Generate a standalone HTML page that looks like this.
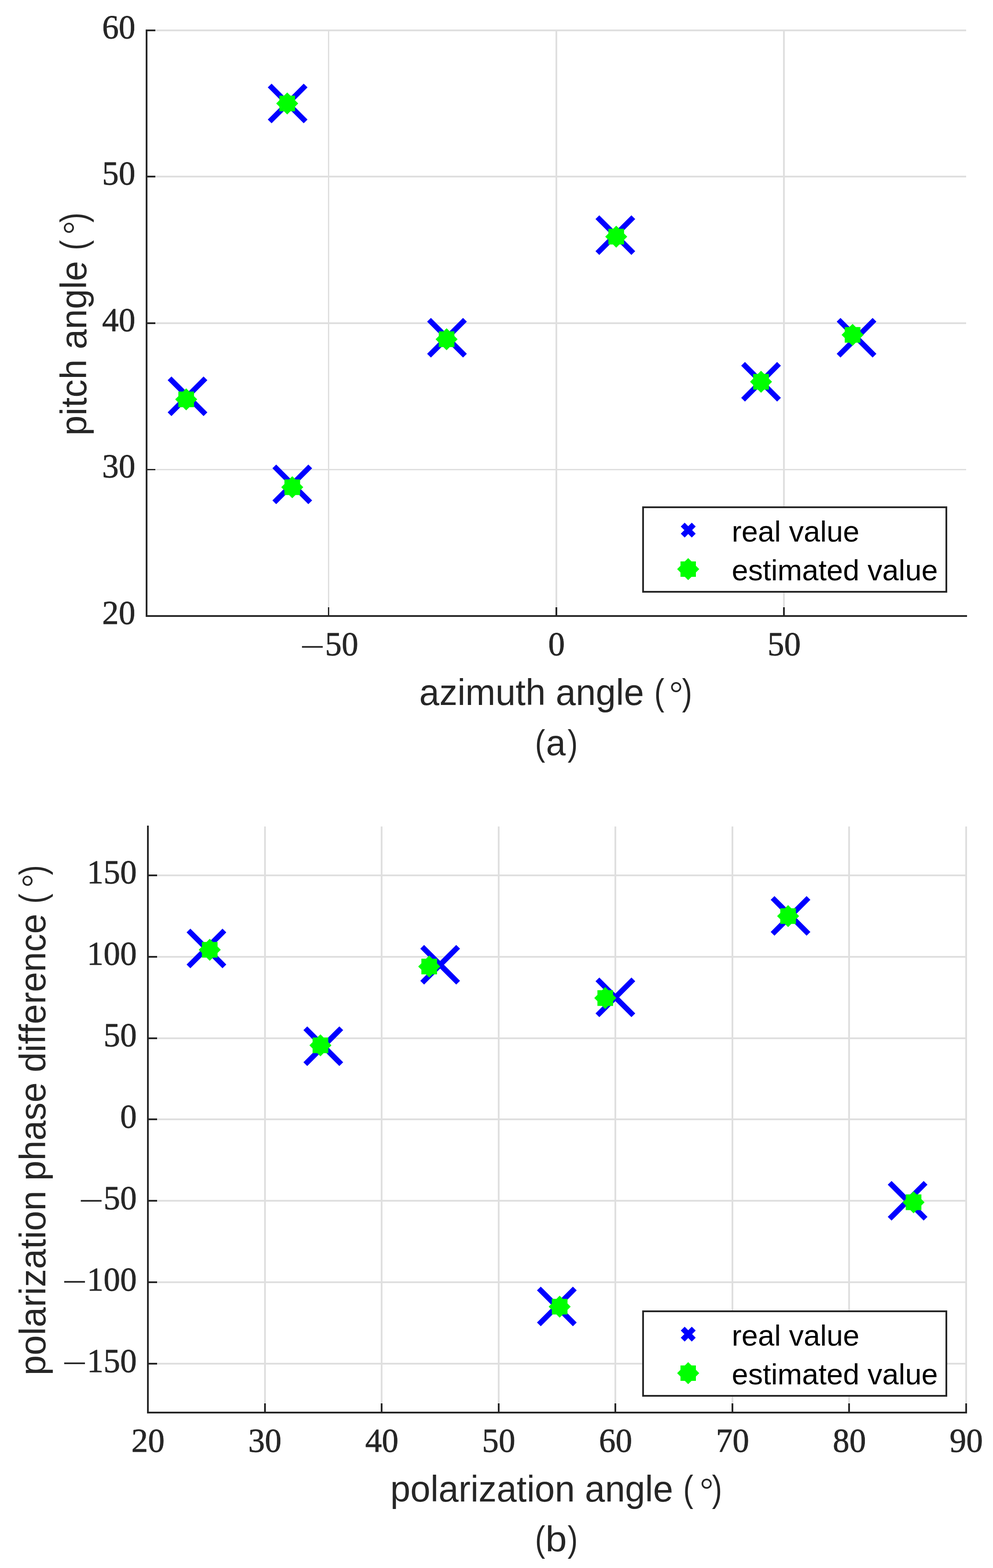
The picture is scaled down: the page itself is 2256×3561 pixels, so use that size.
<!DOCTYPE html>
<html lang="en"><head><meta charset="utf-8"><title>Real and estimated angle values</title>
<style>
html,body{margin:0;padding:0;background:#fff}
body{width:2256px;height:3561px;overflow:hidden}
svg{display:block}
text{font-kerning:none;fill:#262626;white-space:pre}
.sans{font-family:"Liberation Sans",Arial,Helvetica,sans-serif}
.leg{fill:#000}
.deg{font-family:"Liberation Serif","Times New Roman",Times,serif}
.serif{font-family:"Liberation Serif","Times New Roman",Times,serif;stroke:#262626;stroke-width:0.9;stroke-linejoin:round}
.minus{stroke:none}
</style></head><body>
<svg width="2256" height="3561" viewBox="0 0 2256 3561">
<rect width="2256" height="3561" fill="#ffffff"/>
<g id="plot-a">
<g shape-rendering="crispEdges">
<rect x="745" y="69" width="3" height="1309" fill="#dfdfdf"/>
<rect x="1262" y="69" width="4" height="1309" fill="#dfdfdf"/>
<rect x="1779" y="69" width="4" height="1309" fill="#dfdfdf"/>
<rect x="354" y="67" width="1841" height="4" fill="#dfdfdf"/>
<rect x="354" y="399" width="1841" height="4" fill="#dfdfdf"/>
<rect x="354" y="732" width="1841" height="4" fill="#dfdfdf"/>
<rect x="354" y="1065" width="1841" height="3" fill="#dfdfdf"/>
<rect x="745" y="1378" width="3" height="1" fill="#f7f7f7"/>
<rect x="745" y="1379" width="3" height="20" fill="#262626"/>
<rect x="1262" y="1378" width="4" height="1" fill="#f7f7f7"/>
<rect x="1262" y="1379" width="4" height="20" fill="#262626"/>
<rect x="1779" y="1378" width="4" height="1" fill="#f7f7f7"/>
<rect x="1779" y="1379" width="4" height="20" fill="#262626"/>
<rect x="353" y="67" width="1" height="4" fill="#f7f7f7"/>
<rect x="333" y="67" width="20" height="4" fill="#262626"/>
<rect x="353" y="399" width="1" height="4" fill="#f7f7f7"/>
<rect x="333" y="399" width="20" height="4" fill="#262626"/>
<rect x="353" y="732" width="1" height="4" fill="#f7f7f7"/>
<rect x="333" y="732" width="20" height="4" fill="#262626"/>
<rect x="353" y="1065" width="1" height="3" fill="#f7f7f7"/>
<rect x="333" y="1065" width="20" height="3" fill="#262626"/>
<rect x="331" y="67" width="4" height="1334" fill="#262626"/>
<rect x="331" y="1397" width="1866" height="4" fill="#262626"/>
</g>
<path d="M612.7 194.2L694.3 275.8M612.7 275.8L694.3 194.2" stroke="#0000ff" stroke-width="12.2" fill="none"/>
<path d="M1357.2 493.2L1438.8 574.8M1357.2 574.8L1438.8 493.2" stroke="#0000ff" stroke-width="12.2" fill="none"/>
<path d="M974.7 726.2L1056.3 807.8M974.7 807.8L1056.3 726.2" stroke="#0000ff" stroke-width="12.2" fill="none"/>
<path d="M385.2 859.2L466.8 940.8M385.2 940.8L466.8 859.2" stroke="#0000ff" stroke-width="12.2" fill="none"/>
<path d="M623.2 1059.2L704.8 1140.8M623.2 1140.8L704.8 1059.2" stroke="#0000ff" stroke-width="12.2" fill="none"/>
<path d="M1688.2 826.2L1769.8 907.8M1688.2 907.8L1769.8 826.2" stroke="#0000ff" stroke-width="12.2" fill="none"/>
<path d="M1905.2 726.2L1986.8 807.8M1905.2 807.8L1986.8 726.2" stroke="#0000ff" stroke-width="12.2" fill="none"/>
<path d="M634.7 217.2h35.6v35.6h-35.6zM652.5 210L677.5 235L652.5 260L627.5 235z" fill="#00ff00"/>
<path d="M1382.2 519.6h35.6v35.6h-35.6zM1400 512.4L1425 537.4L1400 562.4L1375 537.4z" fill="#00ff00"/>
<path d="M996.8 752.6h35.6v35.6h-35.6zM1014.6 745.4L1039.6 770.4L1014.6 795.4L989.6 770.4z" fill="#00ff00"/>
<path d="M405.2 889.2h35.6v35.6h-35.6zM423 882L448 907L423 932L398 907z" fill="#00ff00"/>
<path d="M646.2 1088.7h35.6v35.6h-35.6zM664 1081.5L689 1106.5L664 1131.5L639 1106.5z" fill="#00ff00"/>
<path d="M1711.2 849.2h35.6v35.6h-35.6zM1729 842L1754 867L1729 892L1704 867z" fill="#00ff00"/>
<path d="M1919.2 742.7h35.6v35.6h-35.6zM1937 735.5L1962 760.5L1937 785.5L1912 760.5z" fill="#00ff00"/>
<rect x="1461" y="1152" width="689" height="192" fill="#ffffff" stroke="#262626" stroke-width="4" shape-rendering="crispEdges"/>
<path d="M1551.1 1191.4L1576.1 1216.4M1551.1 1216.4L1576.1 1191.4" stroke="#0000ff" stroke-width="12.5" fill="none"/>
<path d="M1546 1275h35v35h-35zM1563.5 1267.4L1588.6 1292.5L1563.5 1317.6L1538.4 1292.5z" fill="#00ff00"/>
<text class="sans leg" transform="translate(1662.5 1230) scale(0.9936 1)" font-size="67.3">real value</text>
<text class="sans leg" transform="translate(1662.5 1318) scale(0.9936 1)" font-size="67.3">estimated value</text>
<text class="serif" transform="translate(232.12 1416.9) scale(0.9805 1)" font-size="77">20</text>
<text class="serif" transform="translate(232.12 1084.4) scale(0.9805 1)" font-size="77">30</text>
<text class="serif" transform="translate(232.12 751.9) scale(0.9805 1)" font-size="77">40</text>
<text class="serif" transform="translate(232.12 419.4) scale(0.9805 1)" font-size="77">50</text>
<text class="serif" transform="translate(232.12 86.9) scale(0.9805 1)" font-size="77">60</text>
<text class="serif" transform="translate(738.38 1488.2) scale(0.9805 1)" font-size="77"><tspan class="minus" x="-58.52" y="6.7" font-size="78" textLength="58.39" lengthAdjust="spacingAndGlyphs">−</tspan><tspan x="0" y="0">50</tspan></text>
<text class="serif" transform="translate(1245.43 1488.2) scale(0.9805 1)" font-size="77">0</text>
<text class="serif" transform="translate(1743.77 1488.2) scale(0.9805 1)" font-size="77">50</text>
<text class="sans" transform="translate(952.56 1601) scale(0.984 1)" font-size="83.33"><tspan>azimuth angle </tspan><tspan x="542.67" textLength="23.24" lengthAdjust="spacingAndGlyphs">(</tspan><tspan class="deg" x="577.74" y="-0.7" font-size="77.2">°</tspan><tspan x="606.54" y="0" textLength="23.24" lengthAdjust="spacingAndGlyphs">)</tspan></text>
<text class="sans" transform="translate(196.2 989.25) rotate(-90) scale(0.984 1)" font-size="83.33"><tspan>pitch angle </tspan><tspan x="427.88" textLength="23.24" lengthAdjust="spacingAndGlyphs">(</tspan><tspan class="deg" x="464.07" y="-0.7" font-size="77.2">°</tspan><tspan x="491.5" y="0" textLength="23.24" lengthAdjust="spacingAndGlyphs">)</tspan></text>
<text class="sans" transform="translate(1215.5 1715) scale(1 0.987)" font-size="83.33"><tspan x="0" textLength="23.1" lengthAdjust="spacingAndGlyphs">(</tspan><tspan x="25.03" textLength="44.66" lengthAdjust="spacingAndGlyphs">a</tspan><tspan x="74.08" textLength="23.1" lengthAdjust="spacingAndGlyphs">)</tspan></text>
</g>
<g id="plot-b">
<g shape-rendering="crispEdges">
<rect x="600" y="1877" width="4" height="1309" fill="#dfdfdf"/>
<rect x="865" y="1877" width="4" height="1309" fill="#dfdfdf"/>
<rect x="1131" y="1877" width="4" height="1309" fill="#dfdfdf"/>
<rect x="1396" y="1877" width="4" height="1309" fill="#dfdfdf"/>
<rect x="1662" y="1877" width="4" height="1309" fill="#dfdfdf"/>
<rect x="1927" y="1877" width="4" height="1309" fill="#dfdfdf"/>
<rect x="2193" y="1877" width="4" height="1309" fill="#dfdfdf"/>
<rect x="358" y="1986" width="1837" height="4" fill="#dfdfdf"/>
<rect x="358" y="2171" width="1837" height="4" fill="#dfdfdf"/>
<rect x="358" y="2356" width="1837" height="4" fill="#dfdfdf"/>
<rect x="358" y="2540" width="1837" height="4" fill="#dfdfdf"/>
<rect x="358" y="2725" width="1837" height="4" fill="#dfdfdf"/>
<rect x="358" y="2910" width="1837" height="4" fill="#dfdfdf"/>
<rect x="358" y="3095" width="1837" height="4" fill="#dfdfdf"/>
<rect x="600" y="3186" width="4" height="1" fill="#f7f7f7"/>
<rect x="600" y="3187" width="4" height="21" fill="#262626"/>
<rect x="865" y="3186" width="4" height="1" fill="#f7f7f7"/>
<rect x="865" y="3187" width="4" height="21" fill="#262626"/>
<rect x="1131" y="3186" width="4" height="1" fill="#f7f7f7"/>
<rect x="1131" y="3187" width="4" height="21" fill="#262626"/>
<rect x="1396" y="3186" width="4" height="1" fill="#f7f7f7"/>
<rect x="1396" y="3187" width="4" height="21" fill="#262626"/>
<rect x="1662" y="3186" width="4" height="1" fill="#f7f7f7"/>
<rect x="1662" y="3187" width="4" height="21" fill="#262626"/>
<rect x="1927" y="3186" width="4" height="1" fill="#f7f7f7"/>
<rect x="1927" y="3187" width="4" height="21" fill="#262626"/>
<rect x="2193" y="3186" width="4" height="1" fill="#f7f7f7"/>
<rect x="2193" y="3187" width="4" height="21" fill="#262626"/>
<rect x="357" y="1986" width="1" height="4" fill="#f7f7f7"/>
<rect x="336" y="1986" width="21" height="4" fill="#262626"/>
<rect x="357" y="2171" width="1" height="4" fill="#f7f7f7"/>
<rect x="336" y="2171" width="21" height="4" fill="#262626"/>
<rect x="357" y="2356" width="1" height="4" fill="#f7f7f7"/>
<rect x="336" y="2356" width="21" height="4" fill="#262626"/>
<rect x="357" y="2540" width="1" height="4" fill="#f7f7f7"/>
<rect x="336" y="2540" width="21" height="4" fill="#262626"/>
<rect x="357" y="2725" width="1" height="4" fill="#f7f7f7"/>
<rect x="336" y="2725" width="21" height="4" fill="#262626"/>
<rect x="357" y="2910" width="1" height="4" fill="#f7f7f7"/>
<rect x="336" y="2910" width="21" height="4" fill="#262626"/>
<rect x="357" y="3095" width="1" height="4" fill="#f7f7f7"/>
<rect x="336" y="3095" width="21" height="4" fill="#262626"/>
<rect x="334" y="1875" width="4" height="1335" fill="#262626"/>
<rect x="334" y="3206" width="1863" height="4" fill="#262626"/>
</g>
<path d="M428.2 2113.2L509.8 2194.8M428.2 2194.8L509.8 2113.2" stroke="#0000ff" stroke-width="12.2" fill="none"/>
<path d="M693.7 2335.2L775.3 2416.8M693.7 2416.8L775.3 2335.2" stroke="#0000ff" stroke-width="12.2" fill="none"/>
<path d="M959.2 2150.2L1040.8 2231.8M959.2 2231.8L1040.8 2150.2" stroke="#0000ff" stroke-width="12.2" fill="none"/>
<path d="M1357.3 2224.2L1438.9 2305.8M1357.3 2305.8L1438.9 2224.2" stroke="#0000ff" stroke-width="12.2" fill="none"/>
<path d="M1755.2 2039.2L1836.8 2120.8M1755.2 2120.8L1836.8 2039.2" stroke="#0000ff" stroke-width="12.2" fill="none"/>
<path d="M1224.3 2926.2L1305.9 3007.8M1224.3 3007.8L1305.9 2926.2" stroke="#0000ff" stroke-width="12.2" fill="none"/>
<path d="M2021.2 2686.2L2102.8 2767.8M2021.2 2767.8L2102.8 2686.2" stroke="#0000ff" stroke-width="12.2" fill="none"/>
<path d="M458.7 2139.2h35.6v35.6h-35.6zM476.5 2132L501.5 2157L476.5 2182L451.5 2157z" fill="#00ff00"/>
<path d="M710.2 2356.2h35.6v35.6h-35.6zM728 2349L753 2374L728 2399L703 2374z" fill="#00ff00"/>
<path d="M957.3 2177.2h35.6v35.6h-35.6zM975.1 2170L1000.1 2195L975.1 2220L950.1 2195z" fill="#00ff00"/>
<path d="M1357.3 2248.8h35.6v35.6h-35.6zM1375.1 2241.6L1400.1 2266.6L1375.1 2291.6L1350.1 2266.6z" fill="#00ff00"/>
<path d="M1772.7 2062.7h35.6v35.6h-35.6zM1790.5 2055.5L1815.5 2080.5L1790.5 2105.5L1765.5 2080.5z" fill="#00ff00"/>
<path d="M1253.7 2949.7h35.6v35.6h-35.6zM1271.5 2942.5L1296.5 2967.5L1271.5 2992.5L1246.5 2967.5z" fill="#00ff00"/>
<path d="M2057.7 2712.6h35.6v35.6h-35.6zM2075.5 2705.4L2100.5 2730.4L2075.5 2755.4L2050.5 2730.4z" fill="#00ff00"/>
<rect x="1461" y="2978" width="689" height="192" fill="#ffffff" stroke="#262626" stroke-width="4" shape-rendering="crispEdges"/>
<path d="M1551.1 3017.4L1576.1 3042.4M1551.1 3042.4L1576.1 3017.4" stroke="#0000ff" stroke-width="12.5" fill="none"/>
<path d="M1546 3101h35v35h-35zM1563.5 3093.4L1588.6 3118.5L1563.5 3143.6L1538.4 3118.5z" fill="#00ff00"/>
<text class="sans leg" transform="translate(1662.5 3056) scale(0.9936 1)" font-size="67.3">real value</text>
<text class="sans leg" transform="translate(1662.5 3144) scale(0.9936 1)" font-size="67.3">estimated value</text>
<text class="serif" transform="translate(197.47 3115.58) scale(0.9805 1)" font-size="77"><tspan class="minus" x="-57.9" y="6.7" font-size="78" textLength="58.39" lengthAdjust="spacingAndGlyphs">−</tspan><tspan x="0" y="0">150</tspan></text>
<text class="serif" transform="translate(197.47 2930.72) scale(0.9805 1)" font-size="77"><tspan class="minus" x="-57.9" y="6.7" font-size="78" textLength="58.39" lengthAdjust="spacingAndGlyphs">−</tspan><tspan x="0" y="0">100</tspan></text>
<text class="serif" transform="translate(235.22 2745.86) scale(0.9805 1)" font-size="77"><tspan class="minus" x="-57.9" y="6.7" font-size="78" textLength="58.39" lengthAdjust="spacingAndGlyphs">−</tspan><tspan x="0" y="0">50</tspan></text>
<text class="serif" transform="translate(272.97 2561) scale(0.9805 1)" font-size="77">0</text>
<text class="serif" transform="translate(235.22 2376.14) scale(0.9805 1)" font-size="77">50</text>
<text class="serif" transform="translate(197.47 2191.28) scale(0.9805 1)" font-size="77">100</text>
<text class="serif" transform="translate(197.47 2006.42) scale(0.9805 1)" font-size="77">150</text>
<text class="serif" transform="translate(298.55 3297.2) scale(0.9805 1)" font-size="77">20</text>
<text class="serif" transform="translate(564.12 3297.2) scale(0.9805 1)" font-size="77">30</text>
<text class="serif" transform="translate(829.69 3297.2) scale(0.9805 1)" font-size="77">40</text>
<text class="serif" transform="translate(1095.27 3297.2) scale(0.9805 1)" font-size="77">50</text>
<text class="serif" transform="translate(1360.84 3297.2) scale(0.9805 1)" font-size="77">60</text>
<text class="serif" transform="translate(1626.41 3297.2) scale(0.9805 1)" font-size="77">70</text>
<text class="serif" transform="translate(1891.98 3297.2) scale(0.9805 1)" font-size="77">80</text>
<text class="serif" transform="translate(2157.55 3297.2) scale(0.9805 1)" font-size="77">90</text>
<text class="sans" transform="translate(886.75 3410) scale(0.984 1)" font-size="83.33"><tspan>polarization angle </tspan><tspan x="676.41" textLength="23.24" lengthAdjust="spacingAndGlyphs">(</tspan><tspan class="deg" x="714.84" y="-0.7" font-size="77.2">°</tspan><tspan x="742.72" y="0" textLength="23.24" lengthAdjust="spacingAndGlyphs">)</tspan></text>
<text class="sans" transform="translate(103 3123.55) rotate(-90) scale(0.984 1)" font-size="83.33"><tspan>polarization phase difference </tspan><tspan x="1088.81" textLength="23.24" lengthAdjust="spacingAndGlyphs">(</tspan><tspan class="deg" x="1125.97" y="-0.7" font-size="77.2">°</tspan><tspan x="1154.61" y="0" textLength="23.24" lengthAdjust="spacingAndGlyphs">)</tspan></text>
<text class="sans" transform="translate(1215.5 3523) scale(1 0.987)" font-size="83.33"><tspan x="0" textLength="23.1" lengthAdjust="spacingAndGlyphs">(</tspan><tspan x="23.76" textLength="48.56" lengthAdjust="spacingAndGlyphs">b</tspan><tspan x="74.08" textLength="23.1" lengthAdjust="spacingAndGlyphs">)</tspan></text>
</g>
</svg>
</body></html>
